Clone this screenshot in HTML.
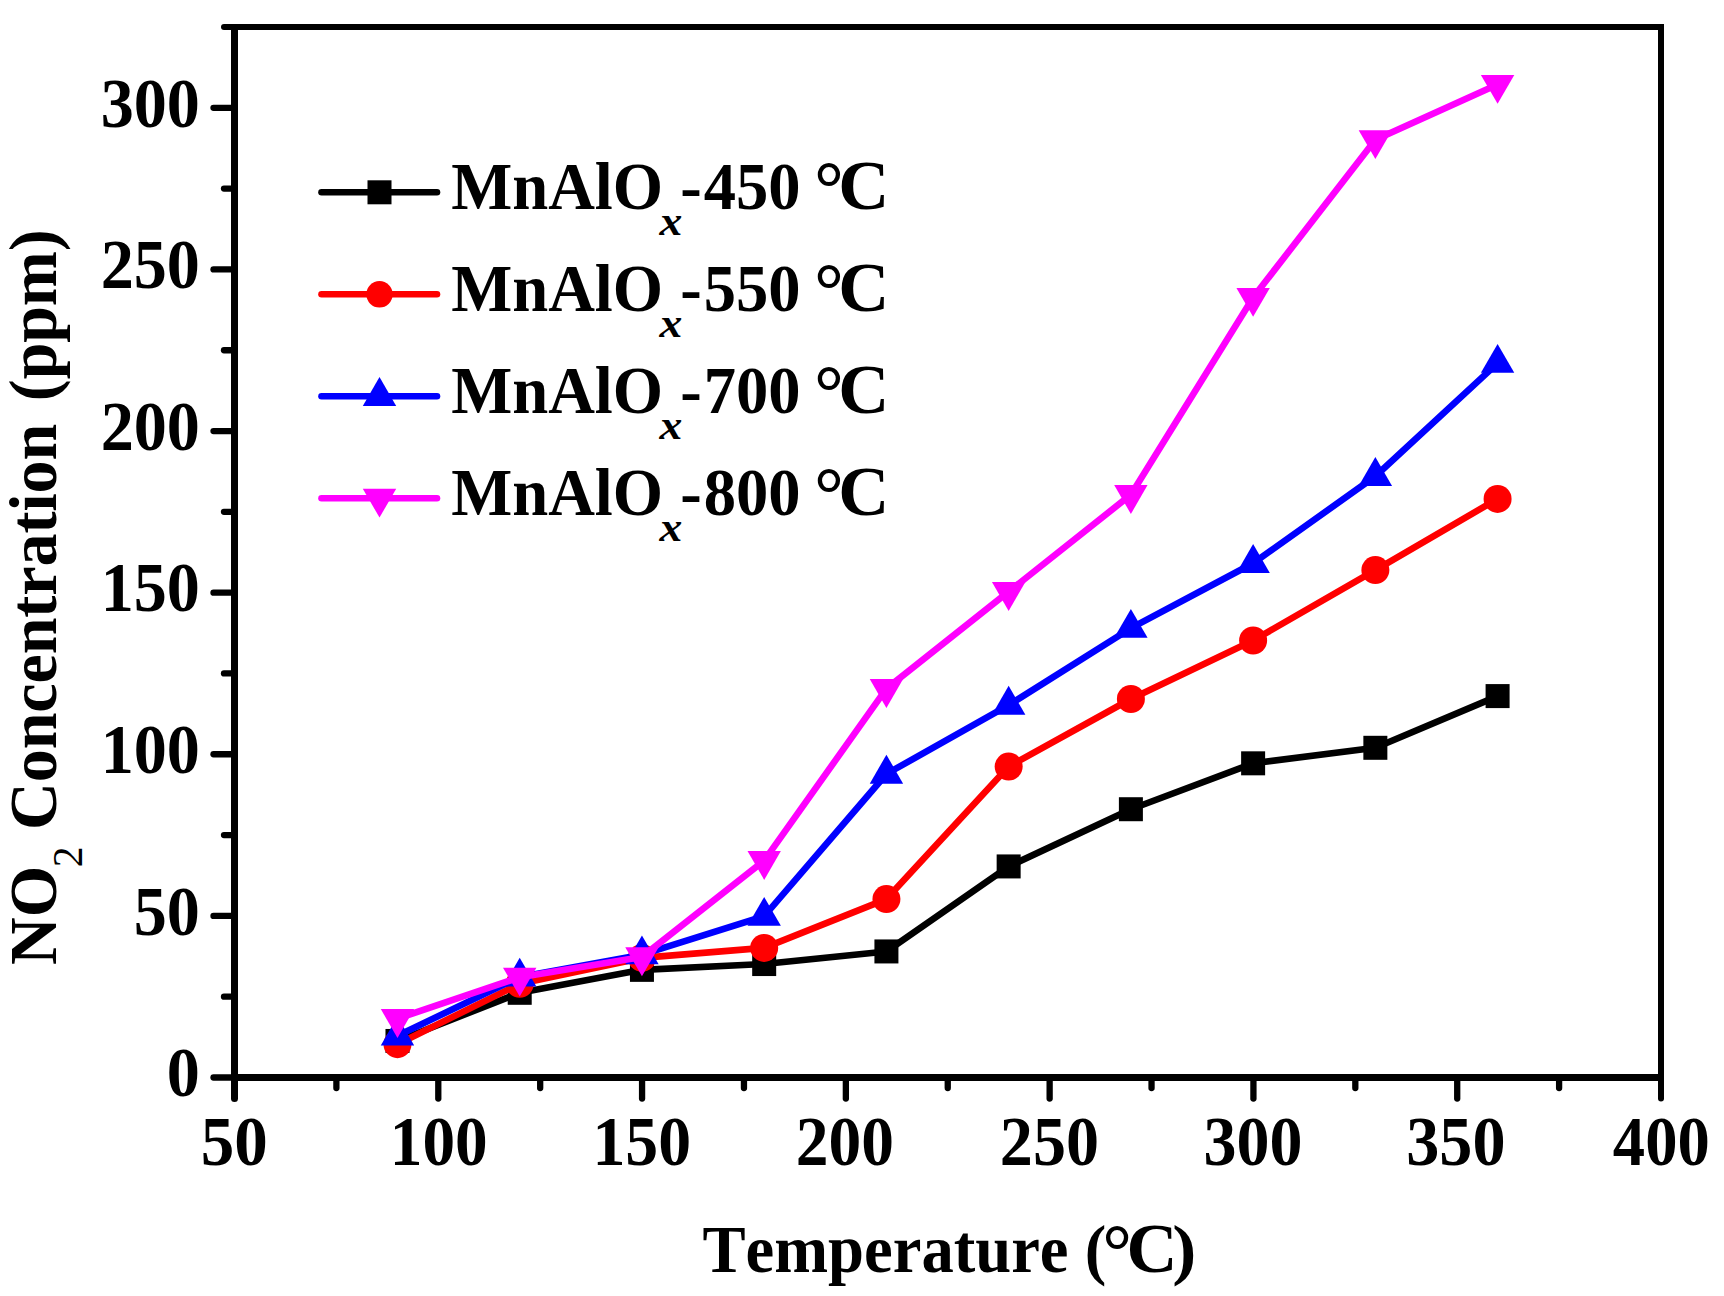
<!DOCTYPE html>
<html><head><meta charset="utf-8"><title>NO2 Concentration vs Temperature</title>
<style>
html,body{margin:0;padding:0;background:#fff;}
body{width:1724px;height:1296px;overflow:hidden;}
svg{display:block;}
text{font-family:"Liberation Serif",serif;font-weight:bold;fill:#000;font-kerning:none;font-variant-ligatures:none;}
</style></head><body>
<svg width="1724" height="1296" viewBox="0 0 1724 1296">
<rect width="1724" height="1296" fill="#fff"/>
<polyline points="397.48,1040.97 519.71,992.81 641.95,969.86 764.18,964.05 886.42,951.44 1008.65,866.43 1130.89,809.22 1253.12,763.32 1375.36,747.80 1497.59,696.09" fill="none" stroke="#000000" stroke-width="6.6" stroke-linejoin="round" stroke-linecap="round"/>
<rect x="385.48" y="1028.97" width="24.0" height="24.0" fill="#000000"/>
<rect x="507.71" y="980.81" width="24.0" height="24.0" fill="#000000"/>
<rect x="629.95" y="957.86" width="24.0" height="24.0" fill="#000000"/>
<rect x="752.18" y="952.05" width="24.0" height="24.0" fill="#000000"/>
<rect x="874.42" y="939.44" width="24.0" height="24.0" fill="#000000"/>
<rect x="996.65" y="854.43" width="24.0" height="24.0" fill="#000000"/>
<rect x="1118.89" y="797.22" width="24.0" height="24.0" fill="#000000"/>
<rect x="1241.12" y="751.32" width="24.0" height="24.0" fill="#000000"/>
<rect x="1363.36" y="735.80" width="24.0" height="24.0" fill="#000000"/>
<rect x="1485.59" y="684.09" width="24.0" height="24.0" fill="#000000"/>
<polyline points="397.48,1044.21 519.71,983.76 641.95,957.90 764.18,947.88 886.42,899.08 1008.65,766.55 1130.89,699.00 1253.12,640.49 1375.36,570.03 1497.59,498.92" fill="none" stroke="#FF0000" stroke-width="6.6" stroke-linejoin="round" stroke-linecap="round"/>
<circle cx="397.48" cy="1044.21" r="14.0" fill="#FF0000"/>
<circle cx="519.71" cy="983.76" r="14.0" fill="#FF0000"/>
<circle cx="641.95" cy="957.90" r="14.0" fill="#FF0000"/>
<circle cx="764.18" cy="947.88" r="14.0" fill="#FF0000"/>
<circle cx="886.42" cy="899.08" r="14.0" fill="#FF0000"/>
<circle cx="1008.65" cy="766.55" r="14.0" fill="#FF0000"/>
<circle cx="1130.89" cy="699.00" r="14.0" fill="#FF0000"/>
<circle cx="1253.12" cy="640.49" r="14.0" fill="#FF0000"/>
<circle cx="1375.36" cy="570.03" r="14.0" fill="#FF0000"/>
<circle cx="1497.59" cy="498.92" r="14.0" fill="#FF0000"/>
<polyline points="397.48,1035.80 519.71,976.98 641.95,954.67 764.18,916.21 886.42,773.99 1008.65,705.14 1130.89,628.21 1253.12,563.24 1375.36,476.29 1497.59,363.16" fill="none" stroke="#0000FF" stroke-width="6.6" stroke-linejoin="round" stroke-linecap="round"/>
<polygon points="380.78,1045.44 414.18,1045.44 397.48,1016.52" fill="#0000FF"/>
<polygon points="503.01,986.62 536.41,986.62 519.71,957.69" fill="#0000FF"/>
<polygon points="625.25,964.31 658.65,964.31 641.95,935.39" fill="#0000FF"/>
<polygon points="747.48,925.85 780.88,925.85 764.18,896.92" fill="#0000FF"/>
<polygon points="869.72,783.63 903.12,783.63 886.42,754.70" fill="#0000FF"/>
<polygon points="991.95,714.78 1025.36,714.78 1008.65,685.85" fill="#0000FF"/>
<polygon points="1114.19,637.85 1147.59,637.85 1130.89,608.93" fill="#0000FF"/>
<polygon points="1236.42,572.88 1269.83,572.88 1253.12,543.96" fill="#0000FF"/>
<polygon points="1358.66,485.93 1392.06,485.93 1375.36,457.01" fill="#0000FF"/>
<polygon points="1480.89,372.80 1514.29,372.80 1497.59,343.88" fill="#0000FF"/>
<polyline points="397.48,1018.67 519.71,977.30 641.95,956.93 764.18,860.61 886.42,688.65 1008.65,591.68 1130.89,494.71 1253.12,297.54 1375.36,139.81 1497.59,84.54" fill="none" stroke="#FF00FF" stroke-width="6.6" stroke-linejoin="round" stroke-linecap="round"/>
<polygon points="380.78,1009.03 414.18,1009.03 397.48,1037.96" fill="#FF00FF"/>
<polygon points="503.01,967.66 536.41,967.66 519.71,996.58" fill="#FF00FF"/>
<polygon points="625.25,947.29 658.65,947.29 641.95,976.22" fill="#FF00FF"/>
<polygon points="747.48,850.97 780.88,850.97 764.18,879.90" fill="#FF00FF"/>
<polygon points="869.72,679.01 903.12,679.01 886.42,707.94" fill="#FF00FF"/>
<polygon points="991.95,582.04 1025.36,582.04 1008.65,610.97" fill="#FF00FF"/>
<polygon points="1114.19,485.07 1147.59,485.07 1130.89,514.00" fill="#FF00FF"/>
<polygon points="1236.42,287.90 1269.83,287.90 1253.12,316.83" fill="#FF00FF"/>
<polygon points="1358.66,130.17 1392.06,130.17 1375.36,159.09" fill="#FF00FF"/>
<polygon points="1480.89,74.89 1514.29,74.89 1497.59,103.82" fill="#FF00FF"/>
<g stroke="#000" fill="none">
<line x1="231.0" y1="27" x2="1664" y2="27" stroke-width="6"/>
<line x1="1661" y1="24" x2="1661" y2="1077.5" stroke-width="6"/>
<line x1="234.5" y1="24" x2="234.5" y2="1077.5" stroke-width="7"/>
<line x1="234.5" y1="1077.5" x2="1664" y2="1077.5" stroke-width="6.8"/>
<g stroke-linecap="round">
<line x1="234.50" y1="1077.5" x2="234.50" y2="1098.5" stroke-width="7"/>
<line x1="336.39" y1="1077.5" x2="336.39" y2="1088.0" stroke-width="6.3"/>
<line x1="438.29" y1="1077.5" x2="438.29" y2="1098.5" stroke-width="6.3"/>
<line x1="540.18" y1="1077.5" x2="540.18" y2="1088.0" stroke-width="6.3"/>
<line x1="642.07" y1="1077.5" x2="642.07" y2="1098.5" stroke-width="6.3"/>
<line x1="743.96" y1="1077.5" x2="743.96" y2="1088.0" stroke-width="6.3"/>
<line x1="845.86" y1="1077.5" x2="845.86" y2="1098.5" stroke-width="6.3"/>
<line x1="947.75" y1="1077.5" x2="947.75" y2="1088.0" stroke-width="6.3"/>
<line x1="1049.64" y1="1077.5" x2="1049.64" y2="1098.5" stroke-width="6.3"/>
<line x1="1151.54" y1="1077.5" x2="1151.54" y2="1088.0" stroke-width="6.3"/>
<line x1="1253.43" y1="1077.5" x2="1253.43" y2="1098.5" stroke-width="6.3"/>
<line x1="1355.32" y1="1077.5" x2="1355.32" y2="1088.0" stroke-width="6.3"/>
<line x1="1457.21" y1="1077.5" x2="1457.21" y2="1098.5" stroke-width="6.3"/>
<line x1="1559.11" y1="1077.5" x2="1559.11" y2="1088.0" stroke-width="6.3"/>
<line x1="1661.00" y1="1077.5" x2="1661.00" y2="1098.5" stroke-width="6"/>
<line x1="234.5" y1="1077.50" x2="213.5" y2="1077.50" stroke-width="6.3"/>
<line x1="234.5" y1="996.69" x2="224.0" y2="996.69" stroke-width="6.3"/>
<line x1="234.5" y1="915.88" x2="213.5" y2="915.88" stroke-width="6.3"/>
<line x1="234.5" y1="835.08" x2="224.0" y2="835.08" stroke-width="6.3"/>
<line x1="234.5" y1="754.27" x2="213.5" y2="754.27" stroke-width="6.3"/>
<line x1="234.5" y1="673.46" x2="224.0" y2="673.46" stroke-width="6.3"/>
<line x1="234.5" y1="592.65" x2="213.5" y2="592.65" stroke-width="6.3"/>
<line x1="234.5" y1="511.85" x2="224.0" y2="511.85" stroke-width="6.3"/>
<line x1="234.5" y1="431.04" x2="213.5" y2="431.04" stroke-width="6.3"/>
<line x1="234.5" y1="350.23" x2="224.0" y2="350.23" stroke-width="6.3"/>
<line x1="234.5" y1="269.42" x2="213.5" y2="269.42" stroke-width="6.3"/>
<line x1="234.5" y1="188.62" x2="224.0" y2="188.62" stroke-width="6.3"/>
<line x1="234.5" y1="107.81" x2="213.5" y2="107.81" stroke-width="6.3"/>
<line x1="234.5" y1="27.00" x2="224.0" y2="27.00" stroke-width="6"/>
</g></g>
<text transform="translate(200.82,1164.60) scale(0.9577,1)" font-size="70" text-anchor="start">50</text>
<text transform="translate(389.87,1164.60) scale(0.9325,1)" font-size="70" text-anchor="start">100</text>
<text transform="translate(592.43,1164.60) scale(0.9397,1)" font-size="70" text-anchor="start">150</text>
<text transform="translate(795.75,1164.60) scale(0.9357,1)" font-size="70" text-anchor="start">200</text>
<text transform="translate(999.82,1164.60) scale(0.9447,1)" font-size="70" text-anchor="start">250</text>
<text transform="translate(1203.62,1164.60) scale(0.9428,1)" font-size="70" text-anchor="start">300</text>
<text transform="translate(1406.31,1164.60) scale(0.9448,1)" font-size="70" text-anchor="start">350</text>
<text transform="translate(1612.82,1164.60) scale(0.9233,1)" font-size="70" text-anchor="start">400</text>
<text transform="translate(199.90,1096.30) scale(0.9450,1)" font-size="70" text-anchor="end">0</text>
<text transform="translate(199.90,934.68) scale(0.9450,1)" font-size="70" text-anchor="end">50</text>
<text transform="translate(199.90,773.07) scale(0.9450,1)" font-size="70" text-anchor="end">100</text>
<text transform="translate(199.90,611.45) scale(0.9450,1)" font-size="70" text-anchor="end">150</text>
<text transform="translate(199.90,449.84) scale(0.9450,1)" font-size="70" text-anchor="end">200</text>
<text transform="translate(199.90,288.22) scale(0.9450,1)" font-size="70" text-anchor="end">250</text>
<text transform="translate(199.90,126.61) scale(0.9450,1)" font-size="70" text-anchor="end">300</text>
<text transform="translate(702.49,1272.20) scale(0.9505,1)" font-size="68" text-anchor="start">Temperature (</text>
<text transform="translate(1102.50,1276.40) scale(0.9894,1)" font-size="74" text-anchor="start">°</text>
<text transform="translate(1126.56,1272.40) scale(1.0217,1)" font-size="69" text-anchor="start">C</text>
<text transform="translate(1172.37,1272.20) scale(1.0650,1)" font-size="68" text-anchor="start">)</text>
<text transform="translate(55.70,965.00) rotate(-90) scale(0.9720,1)" font-size="68" text-anchor="start">NO<tspan font-size="43" font-weight="normal" dy="26.5" dx="-1.5">2</tspan><tspan dy="-26.5" dx="0"> </tspan><tspan letter-spacing="-0.12">Concentration</tspan><tspan dx="6.5" letter-spacing="-0.15"> (ppm)</tspan></text>
<line x1="321.5" y1="192.29999999999998" x2="437" y2="192.29999999999998" stroke="#000000" stroke-width="6.6" stroke-linecap="round"/>
<rect x="367.50" y="180.30" width="24.0" height="24.0" fill="#000000"/>
<text transform="translate(451.19,208.70) scale(0.9510,1)" font-size="68" text-anchor="start">MnAlO</text>
<text transform="translate(659.46,235.30) scale(1.1544,1)" font-size="39.6" text-anchor="start" font-style="italic">x</text>
<text transform="translate(680.30,208.70) scale(0.9495,1)" font-size="68" text-anchor="start">-<tspan dx="2.1">450 </tspan></text>
<text transform="translate(814.28,213.00) scale(0.9938,1)" font-size="74" text-anchor="start">°</text>
<text transform="translate(838.35,208.90) scale(1.0242,1)" font-size="69" text-anchor="start">C</text>
<line x1="321.5" y1="294.3" x2="437" y2="294.3" stroke="#FF0000" stroke-width="6.6" stroke-linecap="round"/>
<circle cx="379.50" cy="294.30" r="13.2" fill="#FF0000"/>
<text transform="translate(451.19,310.70) scale(0.9510,1)" font-size="68" text-anchor="start">MnAlO</text>
<text transform="translate(659.46,337.30) scale(1.1544,1)" font-size="39.6" text-anchor="start" font-style="italic">x</text>
<text transform="translate(680.30,310.70) scale(0.9495,1)" font-size="68" text-anchor="start">-<tspan dx="2.1">550 </tspan></text>
<text transform="translate(814.28,315.00) scale(0.9938,1)" font-size="74" text-anchor="start">°</text>
<text transform="translate(838.35,310.90) scale(1.0242,1)" font-size="69" text-anchor="start">C</text>
<line x1="321.5" y1="396.3" x2="437" y2="396.3" stroke="#0000FF" stroke-width="6.6" stroke-linecap="round"/>
<polygon points="362.80,405.94 396.20,405.94 379.50,377.02" fill="#0000FF"/>
<text transform="translate(451.19,412.70) scale(0.9510,1)" font-size="68" text-anchor="start">MnAlO</text>
<text transform="translate(659.46,439.30) scale(1.1544,1)" font-size="39.6" text-anchor="start" font-style="italic">x</text>
<text transform="translate(680.30,412.70) scale(0.9495,1)" font-size="68" text-anchor="start">-<tspan dx="2.1">700 </tspan></text>
<text transform="translate(814.28,417.00) scale(0.9938,1)" font-size="74" text-anchor="start">°</text>
<text transform="translate(838.35,412.90) scale(1.0242,1)" font-size="69" text-anchor="start">C</text>
<line x1="321.5" y1="498.30000000000007" x2="437" y2="498.30000000000007" stroke="#FF00FF" stroke-width="6.6" stroke-linecap="round"/>
<polygon points="362.80,488.66 396.20,488.66 379.50,517.58" fill="#FF00FF"/>
<text transform="translate(451.19,514.70) scale(0.9510,1)" font-size="68" text-anchor="start">MnAlO</text>
<text transform="translate(659.46,541.30) scale(1.1544,1)" font-size="39.6" text-anchor="start" font-style="italic">x</text>
<text transform="translate(680.30,514.70) scale(0.9495,1)" font-size="68" text-anchor="start">-<tspan dx="2.1">800 </tspan></text>
<text transform="translate(814.28,519.00) scale(0.9938,1)" font-size="74" text-anchor="start">°</text>
<text transform="translate(838.35,514.90) scale(1.0242,1)" font-size="69" text-anchor="start">C</text>
</svg></body></html>
